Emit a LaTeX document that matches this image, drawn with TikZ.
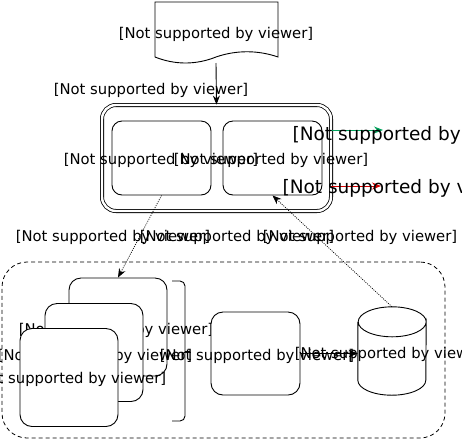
\documentclass[tikz,border=0pt]{standalone}
\usepackage{fontspec}
\setmainfont{DejaVu Sans}
\usetikzlibrary{positioning,arrows.meta}
\definecolor{okgreen}{HTML}{00A35C}
\definecolor{errred}{HTML}{D40000}

\begin{document}
\begin{tikzpicture}[x=1pt, y=-1pt,
  box/.style={draw, line width=0.9pt, rounded corners=10pt, inner sep=0pt},
  card/.style={box, fill=white, rounded corners=12pt,
               minimum width=98pt, minimum height=98pt},
  txt/.style={inner sep=0pt, font=\fontsize{14.8}{17}\selectfont},
  bigtxt/.style={inner sep=0pt, font=\fontsize{18.5}{22}\selectfont},
  arr/.style={-{Stealth[length=9pt,width=7pt]}, line width=0.9pt},
  darr/.style={-{Stealth[length=9pt,width=7pt]}, line width=0.7pt,
               dash pattern=on 1pt off 1.2pt}]
  \useasboundingbox (0,0) rectangle (462,440);
  \draw[line width=0.9pt, fill=white] (155,2) -- (278,2) -- (278,57)
     .. controls (258,50) and (236,50) .. (216,57)
     .. controls (196,65) and (175,65) .. (155,57) -- cycle;
  \node[txt] (doc) at (216,34) {[Not supported by viewer]};
  \coordinate (docb) at (216,63);
  \node[draw, double, double distance=2.4pt, line width=0.8pt,
        rounded corners=14pt, minimum width=229pt, minimum height=106pt,
        inner sep=0pt] (grp) at (216.5,158) {};
  \node[box, minimum width=99pt, minimum height=74pt] (svcA) at (161.5,158) {};
  \node[box, minimum width=99pt, minimum height=74pt] (svcB) at (272.5,158) {};
  \node[txt] (svcAt) at (161,160) {[Not supported by viewer]};
  \node[txt] (svcBt) at (271,160) {[Not supported by viewer]};
  \node[draw, dashed, dash pattern=on 4pt off 3pt, line width=0.8pt,
        rounded corners=25pt, minimum width=443pt, minimum height=176pt,
        inner sep=0pt] (zone) at (223.5,350) {};
  \node[card] (card3) at (118,327) {};
  \node[txt]  (card3t) at (116,330) {[Not supported by viewer]};
  \node[card] (card2) at (94,352.5) {};
  \node[txt]  (card2t) at (95,356) {[Not supported by viewer]};
  \node[card] (card1) at (69,377.5) {};
  \node[txt]  (card1t) at (69,379) {[Not supported by viewer]};
  \draw[line width=0.9pt, rounded corners=5pt]
    (172,281) -- (185,281) -- (185,421) -- (172,421);
  \draw[line width=0.9pt] (185,351) -- (190,351);
  \node[box, fill=white, rounded corners=12pt, minimum width=89pt,
        minimum height=83pt] (proc) at (255.5,353.5) {};
  \node[txt] (proct) at (257,356) {[Not supported by viewer]};
  \node[minimum width=68pt, minimum height=88pt, inner sep=0pt] (store) at (392,351) {};
  \draw[line width=0.9pt, fill=white]
    ([yshift=-15pt]store.north west) -- ([yshift=15pt]store.south west)
    arc[start angle=180, end angle=360, x radius=34pt, y radius=15pt]
    -- ([yshift=-15pt]store.north east)
    arc[start angle=0, end angle=-180, x radius=34pt, y radius=15pt]
    arc[start angle=180, end angle=0, x radius=34pt, y radius=15pt];
  \node[txt] (storet) at (392,354) {[Not supported by viewer]};
  \coordinate (gout) at (383,130);
  \coordinate (rout) at (381,186);
  \draw[arr] (docb) -- (grp.north);
  \node[txt] (inlbl) at (151,90) {[Not supported by viewer]};
  \draw[arr, okgreen] (grp.east |- gout) -- (gout);
  \draw[arr, errred] (grp.east |- rout) -- (rout);
  \node[bigtxt] (okt) at (414,135) {[Not supported by viewer]};
  \node[bigtxt] (errt) at (404,188) {[Not supported by viewer]};
  \draw[darr] (svcA.south) -- (card3.north);
  \draw[darr] (store.north) -- (svcB.south);
  \draw[arr] (proc.east) -- (proc.east -| store.west);
  \node[txt] (e1) at (113,237) {[Not supported by viewer]};
  \node[txt] (e2) at (237,237) {[Not supported by viewer]};
  \node[txt] (e3) at (360,237) {[Not supported by viewer]};
\end{tikzpicture}
\end{document}
